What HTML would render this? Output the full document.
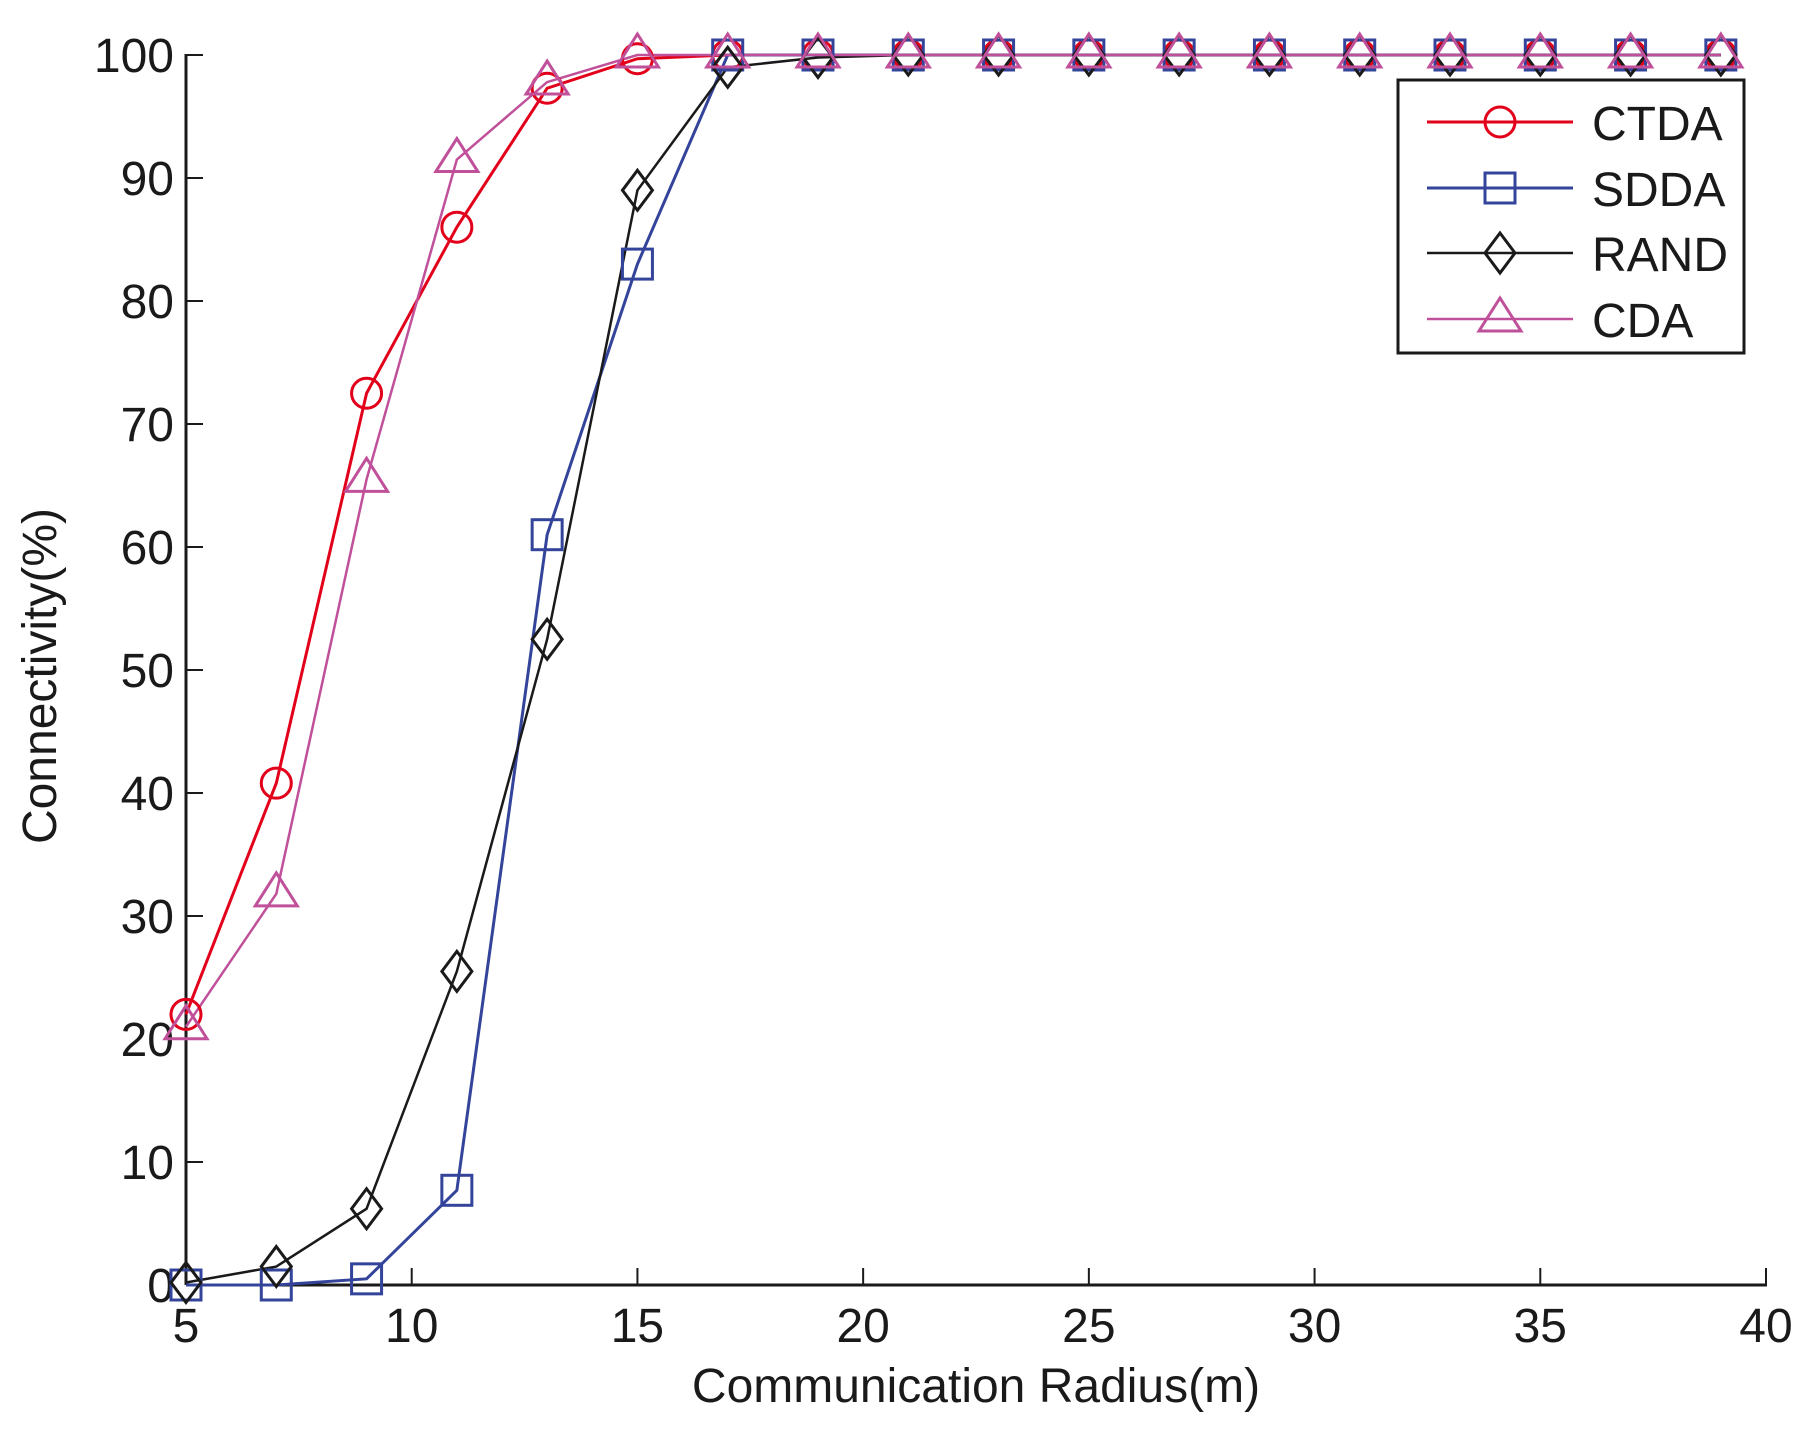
<!DOCTYPE html>
<html><head><meta charset="utf-8"><style>
html,body{margin:0;padding:0;background:#fff;}
svg{display:block;}
text{font-family:"Liberation Sans",sans-serif;fill:#1a1a1a;}
</style></head><body>
<svg id="s" width="1817" height="1446" xmlns="http://www.w3.org/2000/svg"></svg>
<script>
var s=document.getElementById('s'),h='';
function X(x){return 186+(x-5)*(1766-186)/35;}
function Y(v){return 1285-v*(1285-55)/100;}
var xs=[];for(var x=5;x<=39;x+=2)xs.push(x);
function fill(a){while(a.length<18)a.push(100);return a;}
var ser=[
 {c:'#e2001a',w:3,m:'o',d:fill([22,40.8,72.5,86,97.3,99.7])},
 {c:'#33449a',w:3,m:'s',d:fill([0,0,0.5,7.7,61,83,100])},
 {c:'#1a1a1a',w:2.5,m:'d',d:fill([0.2,1.5,6.2,25.5,52.5,89,99,99.8])},
 {c:'#c0509a',w:2.5,m:'t',d:fill([21,31.8,65.5,91.5,97.8,100])}
];
function mk(m,x,y,c){
 if(m=='o')return '<circle cx="'+x+'" cy="'+y+'" r="15" fill="none" stroke="'+c+'" stroke-width="3"/>';
 if(m=='s')return '<rect x="'+(x-15)+'" y="'+(y-15)+'" width="30" height="30" fill="none" stroke="'+c+'" stroke-width="3"/>';
 if(m=='d')return '<polygon points="'+x+','+(y-20)+' '+(x+15)+','+y+' '+x+','+(y+20)+' '+(x-15)+','+y+'" fill="none" stroke="'+c+'" stroke-width="3"/>';
 return '<polygon points="'+x+','+(y-21)+' '+(x+21)+','+(y+12)+' '+(x-21)+','+(y+12)+'" fill="none" stroke="'+c+'" stroke-width="3"/>';
}
h+='<line x1="186" y1="1285" x2="1767" y2="1285" stroke="#1a1a1a" stroke-width="3"/>';
h+='<line x1="186" y1="54" x2="186" y2="1285" stroke="#1a1a1a" stroke-width="3"/>';
for(var t=5;t<=40;t+=5){var px=X(t);h+='<line x1="'+px+'" y1="1285" x2="'+px+'" y2="1268" stroke="#1a1a1a" stroke-width="2"/>';
 h+='<text x="'+px+'" y="1342" font-size="48" text-anchor="middle">'+t+'</text>';}
for(var v=0;v<=100;v+=10){var py=Y(v);h+='<line x1="186" y1="'+py+'" x2="203" y2="'+py+'" stroke="#1a1a1a" stroke-width="2"/>';
 h+='<text x="174" y="'+(py+17)+'" font-size="48" text-anchor="end">'+v+'</text>';}
h+='<text x="976" y="1402" font-size="48" text-anchor="middle">Communication Radius(m)</text>';
h+='<text transform="translate(56,676) rotate(-90)" font-size="48" text-anchor="middle">Connectivity(%)</text>';
ser.forEach(function(S){var p=xs.map(function(x,i){return X(x)+','+Y(S.d[i]);}).join(' ');
 h+='<polyline points="'+p+'" fill="none" stroke="'+S.c+'" stroke-width="'+S.w+'"/>';});
ser.forEach(function(S){xs.forEach(function(x,i){h+=mk(S.m,X(x),Y(S.d[i]),S.c);});});
h+='<rect x="1398" y="80" width="346" height="273" fill="#fff" stroke="#1a1a1a" stroke-width="3"/>';
var names=['CTDA','SDDA','RAND','CDA'],ly=[122,188,253,319];
ser.forEach(function(S,i){h+='<line x1="1427" y1="'+ly[i]+'" x2="1573" y2="'+ly[i]+'" stroke="'+S.c+'" stroke-width="'+S.w+'"/>';
 h+=mk(S.m,1500,ly[i],S.c);
 h+='<text x="1592" y="'+(ly[i]+18)+'" font-size="48">'+names[i]+'</text>';});
s.innerHTML=h;
</script>
</body></html>
